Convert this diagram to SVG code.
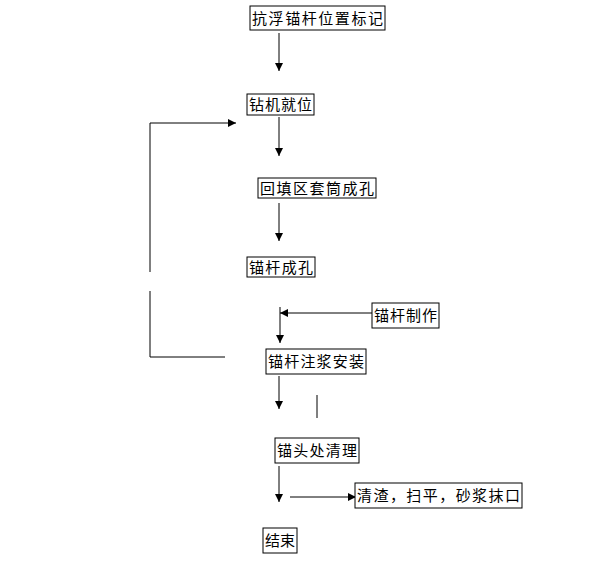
<svg xmlns="http://www.w3.org/2000/svg" width="606" height="567" viewBox="0 0 606 567">
<style>
.b{fill:#fff;stroke:#000;stroke-width:1}
.t{font-family:"Noto Sans CJK SC","Liberation Sans",sans-serif;font-size:15px;fill:#000}
.l{stroke:#000;stroke-width:1;fill:none}
</style>
<defs><marker id="a" viewBox="0 0 10 10" refX="10" refY="5" markerWidth="8" markerHeight="8" markerUnits="userSpaceOnUse" orient="auto"><path d="M0,0L10,5L0,10z" fill="#000"/></marker></defs>
<rect width="606" height="567" fill="#fff"/>
<g id="connectors">
<line class="l" x1="279" y1="33" x2="279" y2="71" marker-end="url(#a)"/>
<line class="l" x1="279" y1="117" x2="279" y2="156" marker-end="url(#a)"/>
<line class="l" x1="279" y1="203" x2="279" y2="241" marker-end="url(#a)"/>
<polyline class="l" points="150,272 150,123 236,123" marker-end="url(#a)"/>
<polyline class="l" points="150,291 150,357 225,357"/>
<line class="l" x1="372" y1="313" x2="280" y2="313" marker-end="url(#a)"/>
<line class="l" x1="280" y1="307" x2="280" y2="343" marker-end="url(#a)"/>
<line class="l" x1="279" y1="376" x2="279" y2="409" marker-end="url(#a)"/>
<line class="l" x1="317" y1="395" x2="317" y2="418"/>
<line class="l" x1="279" y1="466" x2="279" y2="502" marker-end="url(#a)"/>
<line class="l" x1="290" y1="497" x2="356" y2="497" marker-end="url(#a)"/>
</g>
<g id="n1"><rect class="b" x="250" y="6" width="135" height="24"/><text class="t" x="252" y="24" textLength="131">抗浮锚杆位置标记</text></g>
<g id="n2"><rect class="b" x="247" y="94" width="67" height="21"/><text class="t" x="249" y="110" textLength="63">钻机就位</text></g>
<g id="n3"><rect class="b" x="258" y="178" width="118" height="20"/><text class="t" x="260" y="194" textLength="114">回填区套筒成孔</text></g>
<g id="n4"><rect class="b" x="247" y="257" width="68" height="20"/><text class="t" x="249" y="273" textLength="64">锚杆成孔</text></g>
<g id="n5"><rect class="b" x="372" y="303" width="67" height="25"/><text class="t" x="374" y="321" textLength="63">锚杆制作</text></g>
<g id="n6"><rect class="b" x="266" y="349" width="100" height="25"/><text class="t" x="268" y="367" textLength="96">锚杆注浆安装</text></g>
<g id="n7"><rect class="b" x="275" y="438" width="84" height="25"/><text class="t" x="277" y="456" textLength="80">锚头处清理</text></g>
<g id="n8"><rect class="b" x="355" y="483" width="167" height="25"/><text class="t" x="357" y="501" textLength="163">清渣，扫平，砂浆抹口</text></g>
<g id="n9"><rect class="b" x="263" y="528" width="34" height="25"/><text class="t" x="265" y="546" textLength="30">结束</text></g>
</svg>
